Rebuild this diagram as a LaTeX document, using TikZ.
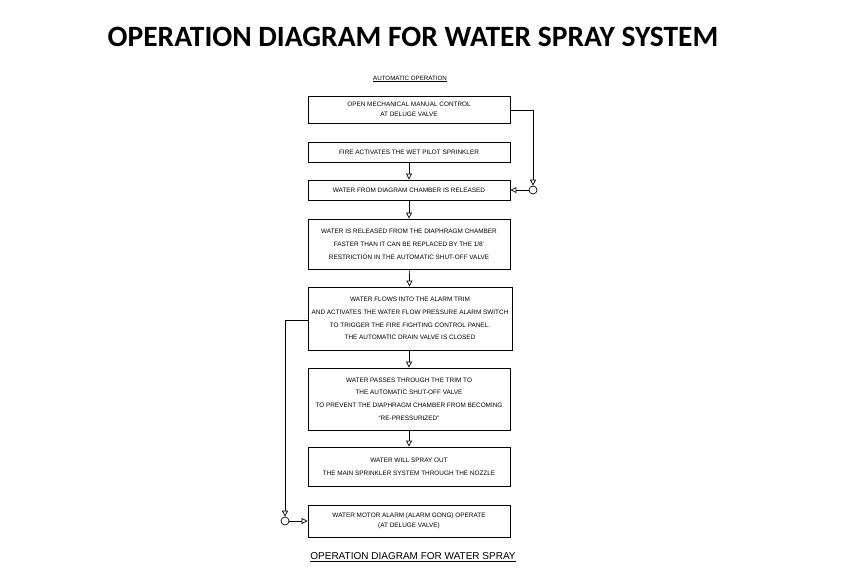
\documentclass[tikz,border=0pt]{standalone}
\usepackage{fontspec}
\setmainfont{Liberation Sans}
\newfontfamily\titlefont{Carlito}
\usetikzlibrary{arrows.meta}
\begin{document}
\begin{tikzpicture}[x=1pt,y=-1pt,
  box/.style={draw,line width=0.8pt,inner sep=0pt,align=center,font=\fontsize{6.4}{12.8}\selectfont},
  flow/.style={line width=0.7pt,-{Triangle[open,length=6pt,width=6pt]}},
  wire/.style={line width=0.7pt}]
\useasboundingbox (0,0) rectangle (845,576);
\node[font=\titlefont\bfseries\fontsize{29.5}{32}\selectfont] (title) at (413,37) {OPERATION DIAGRAM FOR WATER SPRAY SYSTEM};
\node[font=\fontsize{6.2}{7}\selectfont] (auto) at (410,79) {\underline{AUTOMATIC OPERATION}};
\node[box,font=\fontsize{6.4}{10.5}\selectfont,minimum width=202pt,minimum height=27pt] (b1) at (409,109.5) {OPEN MECHANICAL MANUAL CONTROL\\AT DELUGE VALVE};
\node[box,minimum width=202pt,minimum height=20pt] (b2) at (409,152) {FIRE ACTIVATES THE WET PILOT SPRINKLER};
\node[box,minimum width=202pt,minimum height=20pt] (b3) at (409,190) {WATER FROM DIAGRAM CHAMBER IS RELEASED};
\node[box,minimum width=202pt,minimum height=50pt] (b4) at (409,244) {WATER IS RELEASED FROM THE DIAPHRAGM CHAMBER\\FASTER THAN IT CAN BE REPLACED BY THE 1/8'\\RESTRICTION IN THE AUTOMATIC SHUT-OFF VALVE};
\node[box,minimum width=204pt,minimum height=63pt] (b5) at (410,318.5) {WATER FLOWS INTO THE ALARM TRIM\\AND ACTIVATES THE WATER FLOW PRESSURE ALARM SWITCH\\TO TRIGGER THE FIRE FIGHTING CONTROL PANEL.\\THE AUTOMATIC DRAIN VALVE IS CLOSED};
\node[box,minimum width=202pt,minimum height=62pt] (b6) at (409,399) {WATER PASSES THROUGH THE TRIM TO\\THE AUTOMATIC SHUT-OFF VALVE\\TO PREVENT THE DIAPHRAGM CHAMBER FROM BECOMING\\``RE-PRESSURIZED''};
\node[box,minimum width=202pt,minimum height=39pt] (b7) at (409,466.5) {WATER WILL SPRAY OUT\\THE MAIN SPRINKLER SYSTEM THROUGH THE NOZZLE};
\node[box,font=\fontsize{6.4}{10.5}\selectfont,minimum width=202pt,minimum height=32pt] (b8) at (409,521) {WATER MOTOR ALARM (ALARM GONG) OPERATE\\(AT DELUGE VALVE)};
\node[font=\fontsize{10}{11}\selectfont] (cap) at (413,557) {\underline{OPERATION DIAGRAM FOR WATER SPRAY}};
\draw[flow] (b2) -- (b3);
\draw[flow] (b3) -- (b4);
\draw[flow] (b4) -- (b5);
\draw[flow] (b5.south -| b6) -- (b6);
\draw[flow] (b6) -- (b7);
\coordinate (rtop) at (533,110);
\node[draw,circle,line width=0.7pt,minimum size=8pt,inner sep=0pt] (rc) at (533,190) {};
\draw[flow] (b1.east |- rtop) -- (rtop) -- (rc.north);
\draw[flow] (rc.west) -- (b3.east);
\coordinate (ltop) at (285,320);
\node[draw,circle,line width=0.7pt,minimum size=8pt,inner sep=0pt] (lc) at (285,521) {};
\draw[flow] (b5.west |- ltop) -- (ltop) -- (lc.north);
\draw[flow] (lc.east) -- (b8.west);
\end{tikzpicture}
\end{document}
